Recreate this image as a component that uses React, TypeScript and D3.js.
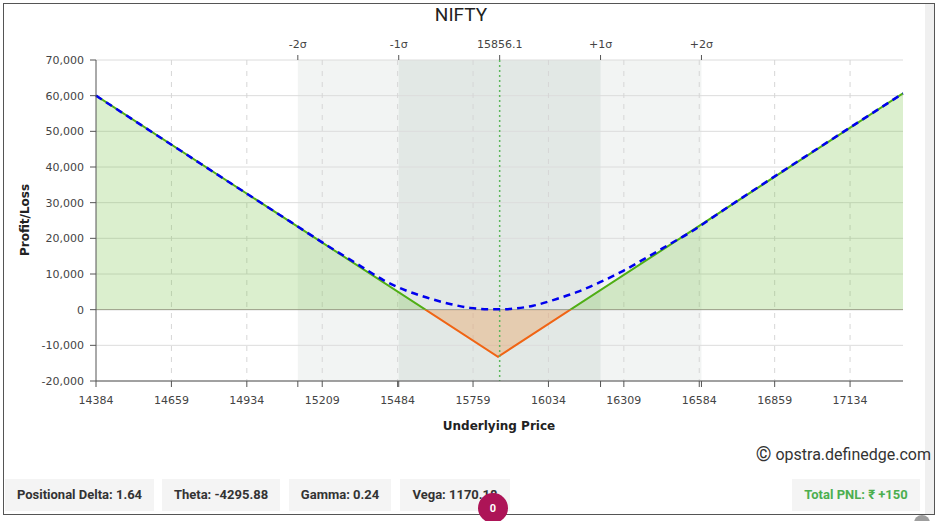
import React from 'react'
import * as d3 from 'd3'

// payoff at expiry (long straddle around 15850)
const expiryPrices = [14384, 15850, 17327]
const expiryPnl = [60000, -13200, 60650]

// T+0 curve (blue dashed)
const t0Prices = [14384, 14700, 15000, 15091, 15237, 15335, 15432, 15517, 15590, 15675, 15748, 15821, 15857, 15894, 15978, 16064, 16137, 16222, 16307, 16392, 16477, 16562, 16660, 16800, 17000, 17327]
const t0Pnl = [60000, 44200, 29250, 24750, 17500, 12900, 8300, 5300, 3400, 1600, 500, 120, 100, 220, 1100, 3000, 4900, 7700, 10900, 14600, 18400, 22200, 27300, 34400, 44400, 60650]

const xTicks = [14384, 14659, 14934, 15209, 15484, 15759, 16034, 16309, 16584, 16859, 17134]
const yTicks = [-20000, -10000, 0, 10000, 20000, 30000, 40000, 50000, 60000, 70000]
const spot = 15856.1
const sigmaLabels = ['-2σ', '-1σ', '+1σ', '+2σ']
const sigmaPrices = [15120, 15488, 16224, 16592]

const greekLabels = ['Positional Delta: 1.64', 'Theta: -4295.88', 'Gamma: 0.24', 'Vega: 1170.18']
const totalPnl = 'Total PNL: ₹ +150'

const W = 939, H = 521
const left = 96, right = 903, top = 60, bottom = 381
const axisFont = '"DejaVu Sans", Verdana, sans-serif'

const App = () => {
    const x = d3.scaleLinear().domain([14384, 17327]).range([left, right])
    const y = d3.scaleLinear().domain([-20000, 70000]).range([bottom, top])

    const expiry = expiryPrices.map((p, i) => [p, expiryPnl[i]] as [number, number])
    const t0 = t0Prices.map((p, i) => [p, t0Pnl[i]] as [number, number])

    const line = d3.line<[number, number]>().x(d => x(d[0])).y(d => y(d[1]))
    const area = d3.area<[number, number]>().x(d => x(d[0])).y0(y(0)).y1(d => y(d[1]))
    const curve = d3.line<[number, number]>().x(d => x(d[0])).y(d => y(d[1])).curve(d3.curveMonotoneX)
    const fmt = (v: number) => v.toLocaleString('en-US')

    // greek boxes: [x, width]
    const boxes = [[5, 149], [162, 118], [289, 102], [400, 110]]

    return (
        <svg width={W} height={H} style={{ position: 'absolute', left: 0, top: 0, background: '#fff' }}>
            <defs>
                <clipPath id="above"><rect x={left} y={top} width={right - left} height={y(0) - top} /></clipPath>
                <clipPath id="below"><rect x={left} y={y(0)} width={right - left} height={bottom - y(0)} /></clipPath>
            </defs>
            {/* frame */}
            <rect x={925} y={4} width={9} height={510} fill="#f0f0f0" />
            <rect x={3.5} y={3.5} width={931} height={511} fill="none" stroke="#555" strokeWidth={1} />

            <text x={461} y={21} textAnchor="middle" fontSize={19} fontFamily="Roboto, sans-serif" fill="#222">NIFTY</text>

            {/* sigma bands */}
            <rect x={x(sigmaPrices[0])} y={top} width={x(sigmaPrices[3]) - x(sigmaPrices[0])} height={bottom - top} fill="#f2f4f3" />
            <rect x={x(sigmaPrices[1])} y={top} width={x(sigmaPrices[2]) - x(sigmaPrices[1])} height={bottom - top} fill="#e2e8e5" />

            {/* grid */}
            {yTicks.map(t => (
                <line key={'gy' + t} x1={left} x2={right} y1={y(t)} y2={y(t)} stroke={t === 0 ? '#999' : '#dcdcdc'} strokeWidth={1} />
            ))}
            {xTicks.slice(1).map(t => (
                <line key={'gx' + t} x1={x(t)} x2={x(t)} y1={top} y2={bottom} stroke="#d6d6d6" strokeDasharray="5,6" />
            ))}

            {/* expiry payoff */}
            <path d={area(expiry) || ''} fill="rgba(110,190,60,0.25)" clipPath="url(#above)" />
            <path d={area(expiry) || ''} fill="rgba(240,120,20,0.25)" clipPath="url(#below)" />
            <path d={line(expiry) || ''} fill="none" stroke="#4fae14" strokeWidth={2} clipPath="url(#above)" />
            <path d={line(expiry) || ''} fill="none" stroke="#f06414" strokeWidth={2} clipPath="url(#below)" />

            {/* spot line */}
            <line x1={x(spot)} x2={x(spot)} y1={top} y2={bottom} stroke="#5cb85c" strokeWidth={1.5} strokeDasharray="2,3" />

            {/* T+0 */}
            <path d={curve(t0) || ''} fill="none" stroke="#0000ee" strokeWidth={2.5} strokeDasharray="7,5" />

            {/* axes */}
            <line x1={left} x2={left} y1={top} y2={bottom} stroke="#555" />
            <line x1={left} x2={right} y1={bottom} y2={bottom} stroke="#555" />
            {yTicks.map(t => (
                <g key={'yt' + t}>
                    <line x1={left - 6} x2={left} y1={y(t)} y2={y(t)} stroke="#555" />
                    <text x={left - 12} y={y(t) + 4} textAnchor="end" fontSize={11} fontFamily={axisFont} fill="#444">{fmt(t)}</text>
                </g>
            ))}
            {[...xTicks, ...sigmaPrices].map((t, i) => (
                <line key={'xt' + i} x1={x(t)} x2={x(t)} y1={bottom} y2={bottom + 6} stroke="#555" />
            ))}
            {xTicks.map(t => (
                <text key={'xl' + t} x={x(t)} y={bottom + 23} textAnchor="middle" fontSize={11} fontFamily={axisFont} fill="#444">{t}</text>
            ))}
            {/* top sigma axis */}
            {sigmaPrices.map((p, i) => (
                <g key={'s' + i}>
                    <line x1={x(p)} x2={x(p)} y1={top - 5} y2={top} stroke="#555" />
                    <text x={x(p)} y={top - 12} textAnchor="middle" fontSize={11} fontFamily={axisFont} fill="#444">{sigmaLabels[i]}</text>
                </g>
            ))}
            <line x1={x(spot)} x2={x(spot)} y1={top - 5} y2={top} stroke="#555" />
            <text x={x(spot)} y={top - 12} textAnchor="middle" fontSize={11} fontFamily={axisFont} fill="#444">{spot}</text>

            <text x={499} y={430} textAnchor="middle" fontSize={12} fontWeight="bold" fontFamily={axisFont} fill="#222">Underlying Price</text>
            <text transform="translate(29,220) rotate(-90)" textAnchor="middle" fontSize={12} fontWeight="bold" fontFamily={axisFont} fill="#222">Profit/Loss</text>

            <text x={931} y={460} textAnchor="end" fontSize={16} fontFamily="Roboto, sans-serif" fill="#333">
                <tspan fontSize={20} dy={1}>©</tspan><tspan dy={-1}> opstra.definedge.com</tspan>
            </text>

            {/* greeks */}
            {boxes.map((b, i) => (
                <g key={'b' + i}>
                    <rect x={b[0]} y={479} width={b[1]} height={32} fill="#f4f4f4" />
                    <text x={b[0] + b[1] / 2} y={499} textAnchor="middle" fontSize={13} fontWeight="bold" fontFamily="Roboto, sans-serif" fill="#333">{greekLabels[i]}</text>
                </g>
            ))}
            <rect x={792} y={479} width={128} height={32} fill="#f4f4f4" />
            <text x={856} y={499} textAnchor="middle" fontSize={13} fontWeight="bold" fontFamily="Roboto, sans-serif" fill="#4cae4f">{totalPnl}</text>

            <circle cx={493} cy={508} r={15} fill="#ad1457" />
            <text x={493} y={512} textAnchor="middle" fontSize={11} fontWeight="bold" fontFamily="Roboto, sans-serif" fill="#fff">0</text>
            <circle cx={922} cy={523} r={8} fill="#9e9e9e" />
        </svg>
    )
}

export default App
